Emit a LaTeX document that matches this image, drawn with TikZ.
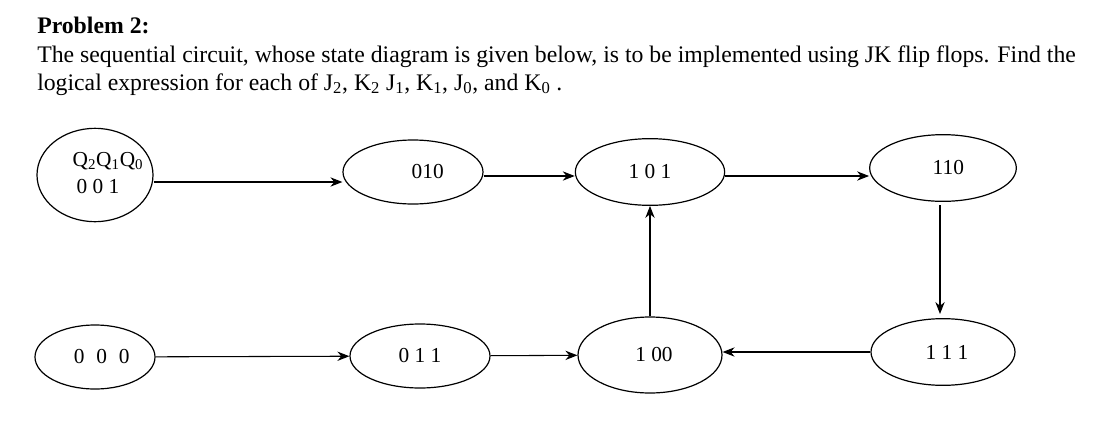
\documentclass[tikz,border=0pt]{standalone}
\usepackage{fontspec}
\setmainfont{Liberation Serif}
\usetikzlibrary{shapes.geometric,arrows.meta}
\begin{document}
\begin{tikzpicture}[x=0.75pt,y=-0.75pt,font=\fontsize{17.8}{21}\selectfont,
  st/.style={draw,ellipse,line width=0.9pt,inner sep=0pt,font=\fontsize{16}{19}\selectfont},
  sm/.style={font=\fontsize{16}{19}\selectfont,inner sep=0pt},
  arr/.style={-{Stealth[length=9pt,width=7pt]},line width=0.8pt},
  tl/.style={anchor=base west,inner sep=0pt}]
\useasboundingbox (0,0) rectangle (1111,429);
\node[tl] (t1) at (37,33) {\textbf{Problem 2:}};
\node[tl] (t2) at (37,62) {The sequential circuit, whose state diagram is given below, is to be implemented using JK flip flops. Find the};
\node[tl] (t3) at (37,90) {logical expression for each of J\textsubscript{2}, K\textsubscript{2} J\textsubscript{1}, K\textsubscript{1}, J\textsubscript{0}, and K\textsubscript{0} .};

\node[st,minimum width=87pt,minimum height=70pt] (A) at (95,175) {};
\node[sm] (Aa) at (108,161) {Q\textsubscript{2}Q\textsubscript{1}Q\textsubscript{0}};
\node[sm] (Ab) at (98,187) {0 0 1};
\node[st,minimum width=105pt,minimum height=48pt] (B) at (413,172) {\hspace{22pt}010};
\node[st,minimum width=112pt,minimum height=50pt] (C) at (650,172) {1 0 1};
\node[st,minimum width=110pt,minimum height=50pt] (D) at (943,168) {\hspace{8pt}110};
\node[st,minimum width=90pt,minimum height=48pt] (E) at (95,357) {\hspace{10pt}0\;\;0\;\;0};
\node[st,minimum width=105pt,minimum height=48pt] (F) at (420,356) {0 1 1};
\node[st,minimum width=108pt,minimum height=57pt] (G) at (650,355) {\hspace{6pt}1 00};
\node[st,minimum width=108pt,minimum height=50pt] (H) at (943,352) {\hspace{6pt}1 1 1};

\draw[arr] (A.east |- 0,182) -- (B.west |- 0,182);
\draw[arr] (B.east |- 0,176) -- (C.west |- 0,176);
\draw[arr] (C.east |- 0,176) -- (D.west |- 0,176);
\draw[arr] (940,205) coordinate (d0) -- (940,314) coordinate (d1);
\draw[arr] (H.west |- 0,352) -- (G.east |- 0,352);
\draw[arr] (G.north) -- (C.south);
\draw[arr] (E) -- (F);
\draw[arr] (F) -- (G);
\end{tikzpicture}
\end{document}
